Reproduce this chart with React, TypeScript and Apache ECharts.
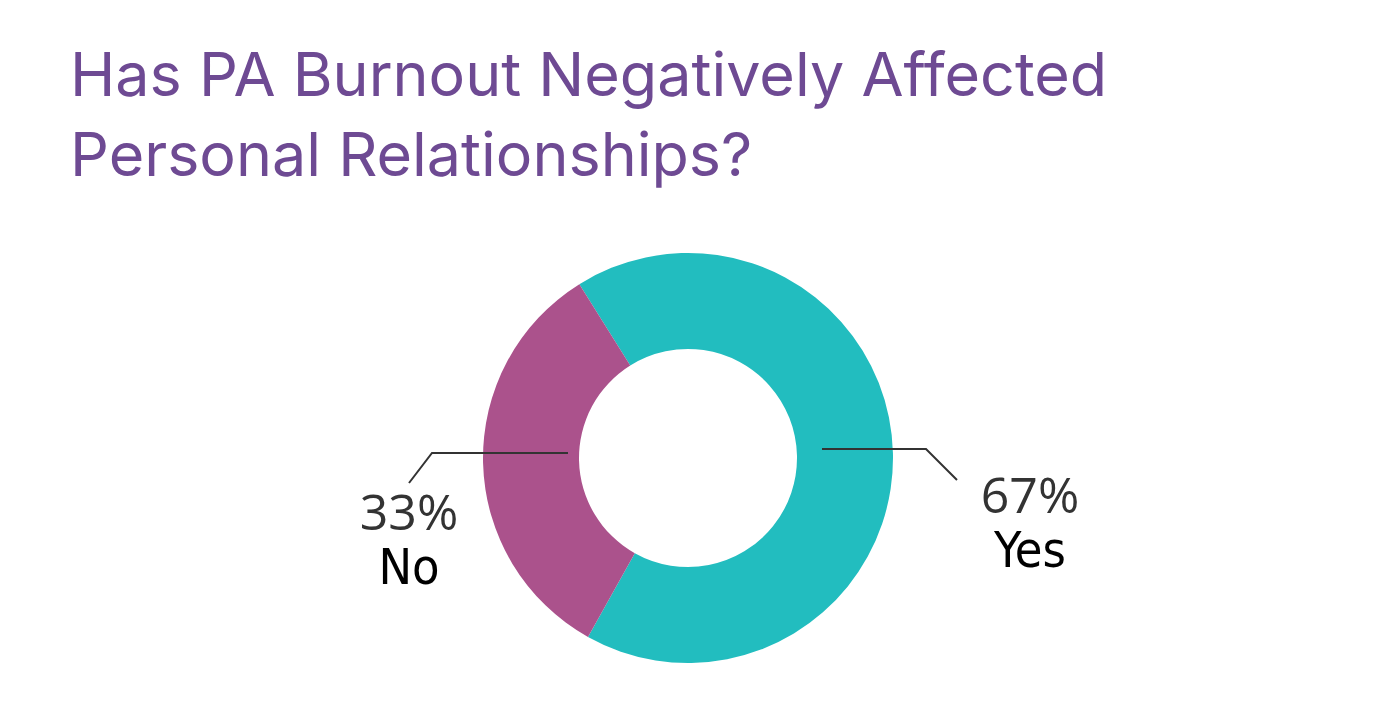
import React, { useEffect, useRef } from "react";
import * as echarts from "echarts";

const TITLE_LINES = ["Has PA Burnout Negatively Affected", "Personal Relationships?"];
const categories = ["Yes", "No"];
const values = [67, 33];
const colors = ["#22BDBF", "#AB528C"];

const CX = 688;
const CY = 458;

export default function App() {
  const ref = useRef<HTMLDivElement>(null);
  useEffect(() => {
    document.body.style.margin = "0";
    const chart = echarts.init(ref.current!, undefined, { renderer: "svg" });
    const linePts: Record<string, number[][]> = {
      Yes: [[822, 449], [926, 449], [957, 480]],
      No: [[568, 453], [432, 453], [409, 483]],
    };
    const labelPos: Record<string, number[]> = {
      Yes: [1030, 466],
      No: [409, 483],
    };
    chart.setOption({
      animation: false,
      backgroundColor: "#ffffff",
      title: {
        text: TITLE_LINES.join("\n"),
        left: 65,
        top: 29,
        textStyle: {
          fontFamily: "Inter",
          fontWeight: 400,
          fontSize: 61,
          lineHeight: 80,
          color: "#6E4A93",
        },
      },
      graphic: categories.map((c) => ({
        type: "polyline",
        z: 100,
        shape: { points: linePts[c] },
        style: { stroke: "#333333", lineWidth: 2, fill: null },
      })),
      series: [
        {
          type: "pie",
          center: [CX, CY],
          radius: [109, 205],
          startAngle: 122,
          clockwise: true,
          avoidLabelOverlap: false,
          data: categories.map((c, i) => ({
            name: c,
            value: values[i],
            itemStyle: { color: colors[i] },
          })),
          label: {
            show: true,
            formatter: "{p|{d}%}\n{n|{b}}",
            rich: {
              p: { fontFamily: "Open Sans", fontSize: 50, color: "#333333", lineHeight: 56, align: "center" },
              n: { fontFamily: "DejaVu Sans Condensed, Liberation Sans Narrow, Roboto, sans-serif", fontSize: 50, color: "#000000", lineHeight: 56, align: "center" },
            },
          },
          labelLine: { show: false },
          labelLayout: (params: any) => {
            const name = categories[params.dataIndex];
            return {
              x: labelPos[name][0],
              y: labelPos[name][1],
              align: "center",
              verticalAlign: "top",
            };
          },
          emphasis: { disabled: true },
        },
      ],
    });
    return () => chart.dispose();
  }, []);
  return <div ref={ref} style={{ width: 1380, height: 709 }} />;
}
